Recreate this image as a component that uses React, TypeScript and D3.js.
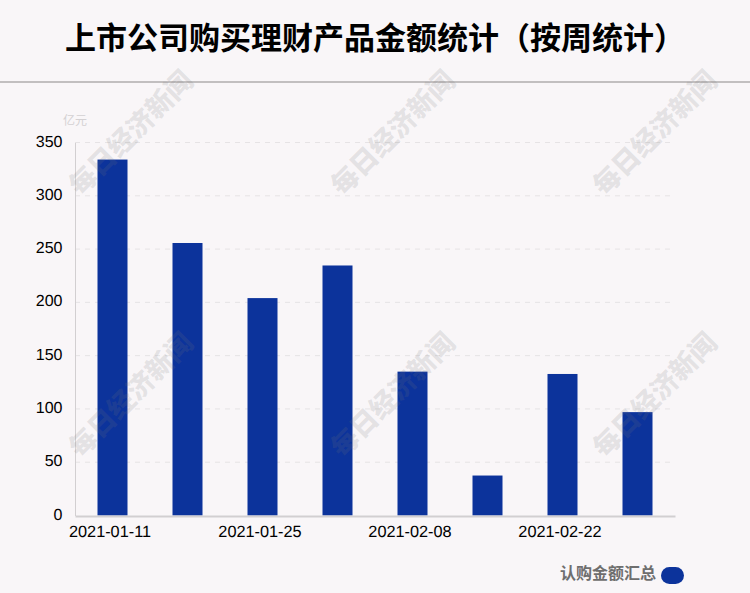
import { useEffect, useRef } from 'react';
import * as d3 from 'd3';

const weeks = ['2021-01-11', '2021-01-18', '2021-01-25', '2021-02-01', '2021-02-08', '2021-02-15', '2021-02-22', '2021-03-01'];
const amounts = [334, 255.7, 204, 234.6, 135, 37.5, 132.8, 97];
const yTicks = [0, 50, 100, 150, 200, 250, 300, 350];
const title = '上市公司购买理财产品金额统计（按周统计）';
const unit = '亿元';
const legendLabel = '认购金额汇总';
const watermark = '每日经济新闻';

const W = 750;
const H = 593;
const latin = '"Liberation Sans", Arial, sans-serif';
const cjk = '"Liberation Sans", "Noto Sans CJK SC", sans-serif';

export default function App() {
  const ref = useRef<SVGSVGElement>(null);

  useEffect(() => {
    if (!ref.current) return;
    const svg = d3.select(ref.current);
    svg.selectAll('*').remove();

    const x = d3.scaleBand<string>().domain(weeks).range([75, 675]).paddingInner(0.6).paddingOuter(0.3);
    const y = d3.scaleLinear().domain([0, 350]).range([515.5, 142.5]);

    svg.append('rect').attr('width', W).attr('height', H).attr('fill', '#f9f6f8');

    // header
    svg.append('text')
      .attr('x', 65).attr('y', 49)
      .style('font-family', cjk)
      .style('font-size', '31px')
      .style('font-weight', 'bold')
      .attr('fill', '#000')
      .text(title);
    svg.append('line')
      .attr('x1', 0).attr('x2', W).attr('y1', 82).attr('y2', 82)
      .attr('stroke', '#c2bfc0').attr('stroke-width', 2);

    // gridlines
    svg.append('g').selectAll('line')
      .data(yTicks.filter(d => d > 0))
      .join('line')
      .attr('x1', 75).attr('x2', 675)
      .attr('y1', d => y(d)).attr('y2', d => y(d))
      .attr('stroke', '#e6e3e5')
      .attr('stroke-dasharray', '5 5');

    // bars
    svg.append('g').selectAll('rect')
      .data(weeks)
      .join('rect')
      .attr('x', d => x(d) as number)
      .attr('width', x.bandwidth())
      .attr('y', (_, i) => y(amounts[i]))
      .attr('height', (_, i) => y(0) - y(amounts[i]))
      .attr('fill', '#0c339b');

    // y axis
    const yAxis = svg.append('g')
      .attr('transform', 'translate(75,0)')
      .call(d3.axisLeft(y).tickValues(yTicks).tickSize(0).tickPadding(12.5));
    yAxis.select('.domain').attr('stroke', '#d2cfd1');
    yAxis.selectAll('text')
      .attr('dy', '0.22em')
      .style('font-family', latin)
      .style('font-size', '16px')
      .style('text-rendering', 'geometricPrecision')
      .attr('fill', '#000');

    // x axis
    const xAxis = svg.append('g')
      .attr('transform', 'translate(0,516)')
      .call(d3.axisBottom(x).tickValues(weeks.filter((_, i) => i % 2 === 0)).tickSize(0).tickPadding(9));
    xAxis.select('.domain').attr('stroke', '#d2cfd1').attr('stroke-width', 2);
    xAxis.selectAll('text')
      .attr('dx', -2.5)
      .style('font-family', latin)
      .style('font-size', '16.3px')
      .style('text-rendering', 'geometricPrecision')
      .attr('fill', '#000');

    svg.append('text')
      .attr('x', 63).attr('y', 125)
      .style('font-family', cjk)
      .style('font-size', '12px')
      .attr('fill', '#d4d1d3')
      .text(unit);

    // legend
    svg.append('text')
      .attr('x', 656).attr('y', 579)
      .attr('text-anchor', 'end')
      .style('font-family', cjk)
      .style('font-size', '16px')
      .style('font-weight', 'bold')
      .attr('fill', '#6e6e6e')
      .text(legendLabel);
    svg.append('rect')
      .attr('x', 661).attr('y', 567).attr('width', 23).attr('height', 17).attr('rx', 8.5)
      .attr('fill', '#0c339b');

    // watermarks
    const marks = d3.cross([131, 393, 655], [133, 395]);
    svg.append('g').selectAll('text')
      .data(marks)
      .join('text')
      .attr('transform', d => `translate(${d[0]},${d[1]}) rotate(-45)`)
      .attr('text-anchor', 'middle')
      .attr('dy', '0.35em')
      .style('font-family', '"Noto Sans CJK SC", sans-serif')
      .style('font-size', '27px')
      .style('font-weight', 900)
      .attr('fill', 'rgba(120,120,120,0.17)')
      .text(watermark);
  }, []);

  return (
    <svg
      ref={ref}
      width={W}
      height={H}
      viewBox={`0 0 ${W} ${H}`}
      style={{ position: 'absolute', left: 0, top: 0, display: 'block' }}
    />
  );
}
